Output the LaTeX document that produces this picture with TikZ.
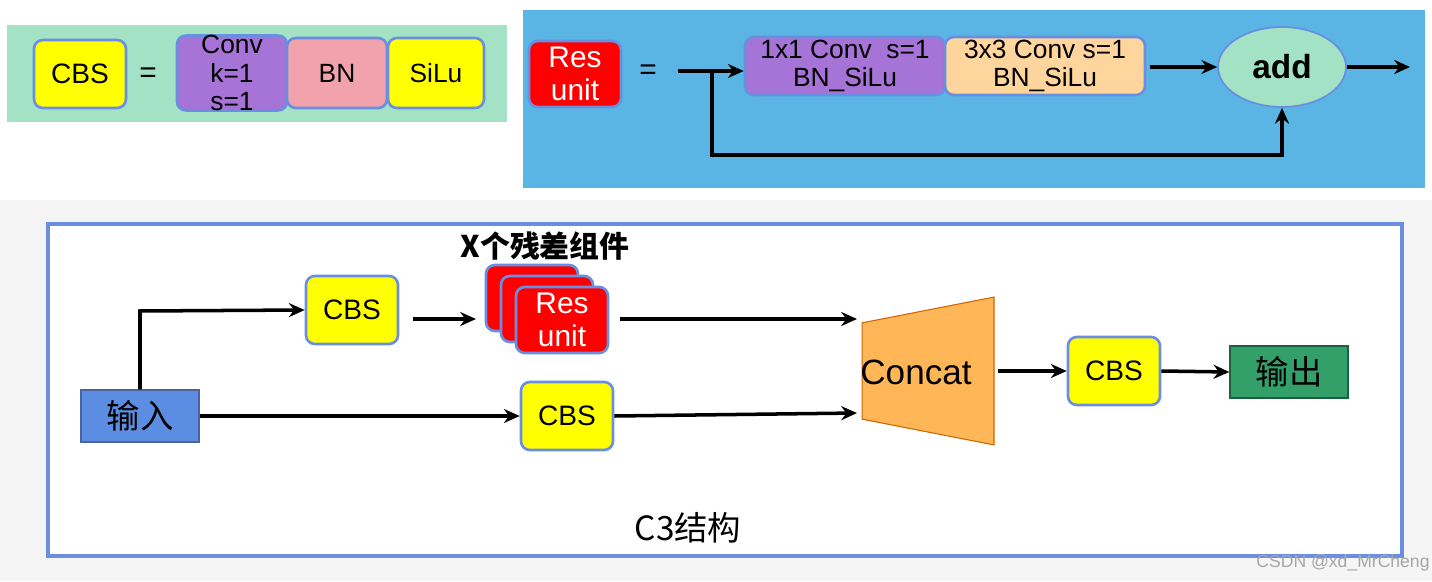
\documentclass[tikz,border=0pt]{standalone}
\usepackage{fontspec}
\setmainfont{Liberation Sans}
\newfontfamily\cjk{Noto Sans CJK SC}
\usetikzlibrary{arrows.meta,shapes.geometric}
\definecolor{pgreen}{HTML}{A3E2C4}
\definecolor{pblue}{HTML}{5AB5E4}
\definecolor{bord}{HTML}{6A8FE0}
\definecolor{cyel}{HTML}{FFFF00}
\definecolor{cpur}{HTML}{A673D6}
\definecolor{cpink}{HTML}{F2A2AD}
\definecolor{corg}{HTML}{FFD59E}
\definecolor{ccon}{HTML}{FFB656}
\definecolor{cin}{HTML}{5B8EE2}
\definecolor{cout}{HTML}{33A06A}
\begin{document}
\begin{tikzpicture}[x=0.02cm,y=-0.02cm,
 box/.style={draw=bord,line width=1.5pt,rounded corners=5pt,align=center,inner sep=0pt,font=\fontsize{15}{16}\selectfont},
 cbs/.style={box,fill=cyel,minimum width=1.84cm,minimum height=1.36cm,font=\fontsize{16}{17}\selectfont},
 res/.style={box,fill=red,text=white,minimum width=1.84cm,minimum height=1.32cm,font=\fontsize{17}{19}\selectfont},
 arr/.style={line width=2pt,-{Stealth[length=9pt,width=8pt]}}]
\useasboundingbox (0,0) rectangle (1432,581);
\fill[white] (0,0) rectangle (1432,581);
\fill[gray!8] (0,200) rectangle (1432,581);
% top-left panel
\fill[pgreen] (7,25) rectangle (507,122);
\node[cbs] (c0) at (80,74) {CBS};
\node (eq1) at (148,75) {\fontsize{17}{18}\selectfont =};
\node[box,fill=cpur,minimum width=2.2cm,minimum height=1.4cm,font=\fontsize{15}{16}\selectfont] (conv) at (232,73) {Conv\\k=1\\s=1};
\node[box,fill=cpink,minimum width=2cm,minimum height=1.4cm] (bn) at (337,73) {BN};
\node[box,fill=cyel,minimum width=1.92cm,minimum height=1.4cm] (silu) at (436,73) {SiLu};
% top-right panel
\fill[pblue] (523,10) rectangle (1425,188);
\node[res] (r0) at (575,74) {Res\\unit};
\node (eq2) at (648,72) {\fontsize{17}{18}\selectfont =};
\coordinate (s0) at (678,71);
\node[box,fill=cpur,minimum width=4cm,minimum height=1.16cm] (b1) at (845,66) {1x1 Conv\ \ s=1\\BN\_SiLu};
\node[box,fill=corg,minimum width=4cm,minimum height=1.16cm] (b2) at (1045,66) {3x3 Conv s=1\\BN\_SiLu};
\node[ellipse,draw=bord,line width=1pt,fill=pgreen,minimum width=2.56cm,minimum height=1.6cm,font=\bfseries\fontsize{19}{20}\selectfont] (add) at (1282,67) {add};
\coordinate (e0) at (1410,67);
\draw[arr] (s0) -- (b1.west|-s0);
\draw[arr] (1150,67) -- (add.west);
\draw[arr] (add.east) -- (e0);
\draw[arr] (712,71) -- (712,155) -- (1282,155) -- (add.south);
% bottom box
\draw[bord,line width=2.5pt,fill=white] (48,224) rectangle (1402,556);
\node[draw=bord!70!black,line width=0.8pt,fill=cin,minimum width=2.36cm,minimum height=1.04cm,font=\cjk\fontsize{19}{20}\selectfont] (in) at (140,416) {输入};
\node[cbs] (c1) at (352,310) {CBS};
\node[cbs] (c2) at (567,416) {CBS};
\node[res] (ra) at (532,298) {};
\node[res] (rb) at (547,309) {};
\node[res] (rc) at (562,320) {Res\\unit};
\node[font=\cjk\bfseries\fontsize{17}{18}\selectfont] (lbl) at (545,246) {X个残差组件};
\node[trapezium,shape border rotate=90,trapezium stretches=true,draw=orange!80!black,line width=0.6pt,fill=ccon,minimum width=2.96cm,minimum height=2.64cm,trapezium angle=75] (cat) at (928,371) {};
\node[font=\fontsize{20}{22}\selectfont] (cattxt) at (916,372) {Concat};
\node[cbs] (c3) at (1114,371) {CBS};
\node[draw=cout!60!black,line width=0.8pt,fill=cout,minimum width=2.36cm,minimum height=1.04cm,font=\cjk\fontsize{19}{20}\selectfont] (out) at (1289,372) {输出};
\draw[arr] (in.north) -- (140,311) -- (c1.west);
\draw[arr] (413,319) -- (476,319);
\draw[arr] (620,319) -- (857,319);
\draw[arr] (in.east) -- (c2.west);
\draw[arr] (c2.east) -- (857,413);
\draw[arr] (998,371) -- (c3.west);
\draw[arr] (c3.east) -- (out.west);
\node[font=\cjk\fontsize{19}{20}\selectfont] (c3t) at (688,528) {C3结构};
\node[font=\fontsize{10}{11}\selectfont,text=gray!70] (wm) at (1343,563) {CSDN @xd\_MrCheng};
\end{tikzpicture}
\end{document}
